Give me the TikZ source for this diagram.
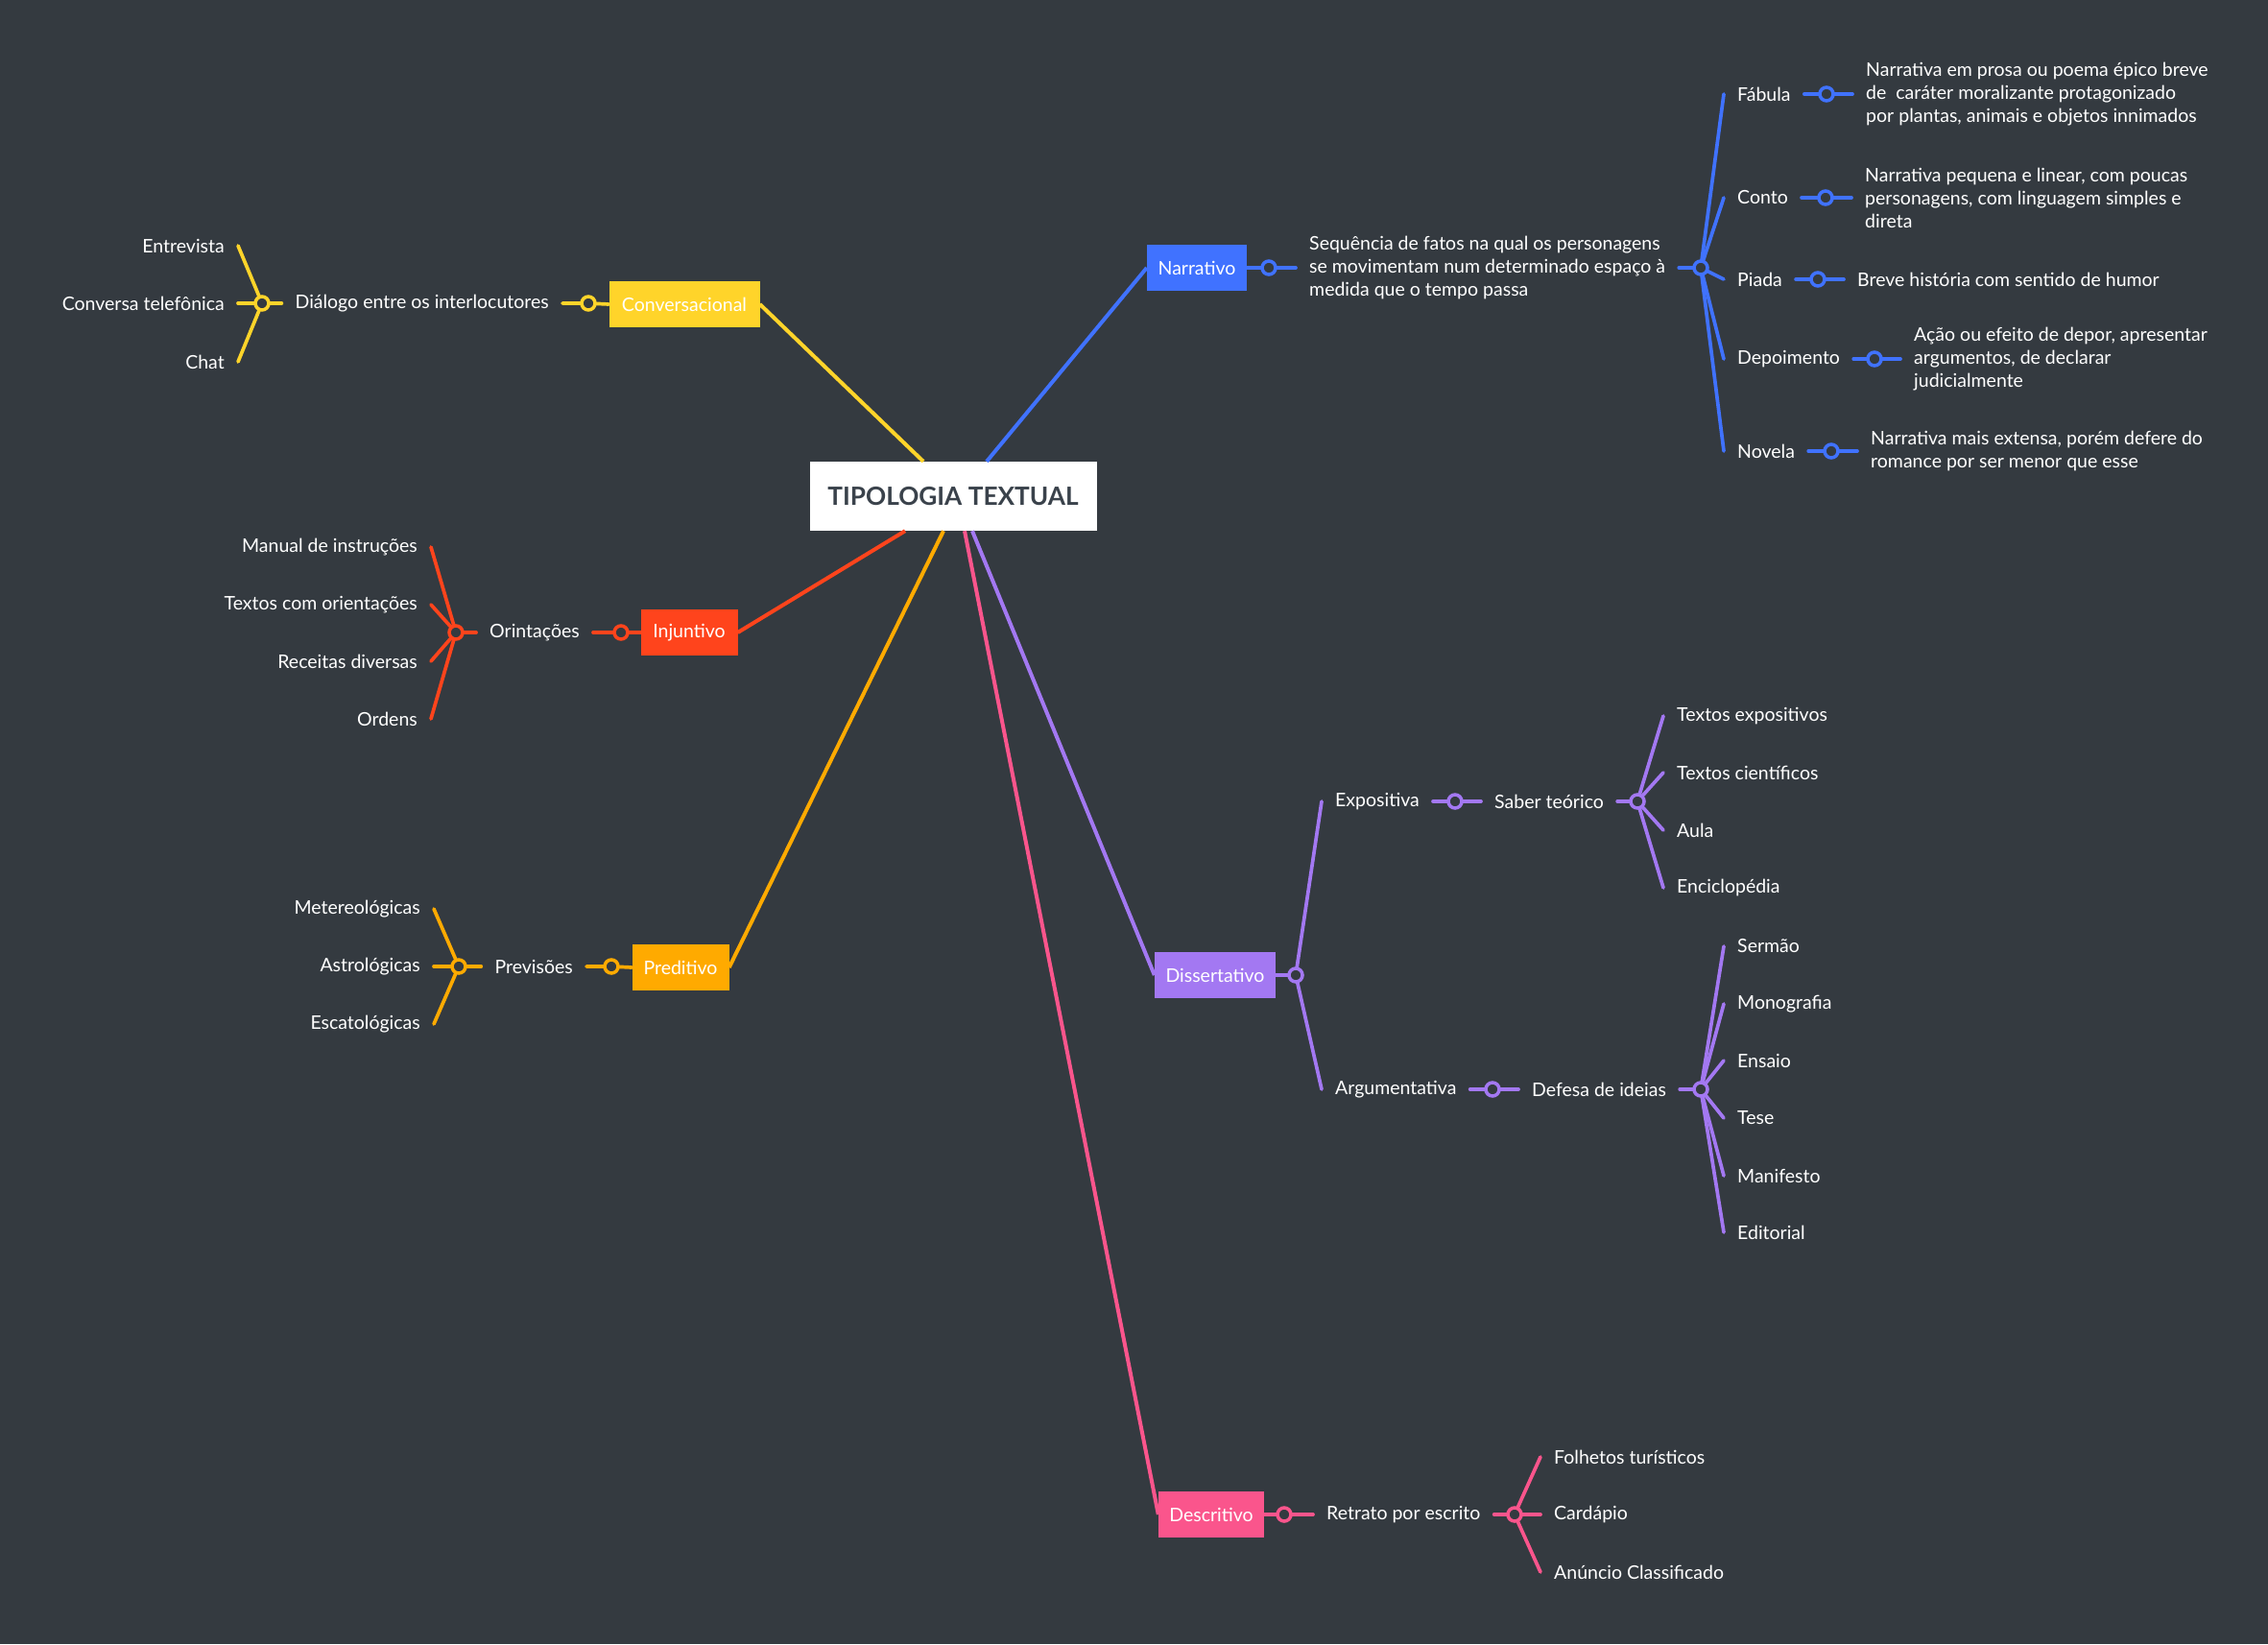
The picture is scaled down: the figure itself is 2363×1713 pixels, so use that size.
\documentclass[tikz,border=0pt]{standalone}
\usepackage{fontspec}
\setmainfont{Lato}
\definecolor{bg}{RGB}{52,58,64}
\definecolor{cY}{RGB}{255,212,42}
\definecolor{cB}{RGB}{64,114,255}
\definecolor{cR}{RGB}{255,68,28}
\definecolor{cO}{RGB}{255,170,0}
\definecolor{cP}{RGB}{163,120,242}
\definecolor{cK}{RGB}{250,85,140}
\definecolor{ttl}{RGB}{58,66,75}
\tikzset{
  txt/.style={text=white, font=\fontsize{19.5}{24}\selectfont, inner xsep=14pt, inner ysep=2pt, align=left},
  box/.style={minimum height=48pt, inner sep=0pt, text=white, font=\fontsize{19.5}{24}\selectfont},
  mainln/.style={line width=4pt},
  lnk/.style={line width=3.7pt, line cap=round},
  knob/.style={circle, draw, line width=3.5pt, fill=bg, minimum size=14pt, inner sep=0pt},
}
\begin{document}
\begin{tikzpicture}[x=1pt,y=-1pt]
\fill[bg] (0,0) rectangle (2363,1713);
\useasboundingbox (0,0) rectangle (2363,1713);

% central
\node[fill=white, minimum width=299pt, minimum height=72pt, inner sep=0pt, text=ttl, font=\fontsize{26.2}{30}\selectfont\bfseries] (central) at (993,517) {TIPOLOGIA TEXTUAL};

% ---------- Conversacional ----------
\node[box, fill=cY, minimum width=157pt] (conv) at (713,317) {Conversacional};
\node[txt, anchor=east] (dial) at (586,316) {Diálogo entre os interlocutores};
\coordinate (kconv) at (613,316);
\coordinate (kdial) at (273,316);
\node[txt, anchor=east] (entr) at (248,256) {Entrevista};
\node[txt, anchor=east] (tele) at (248,316) {Conversa telefônica};
\node[txt, anchor=east] (chat) at (248,377) {Chat};
\draw[mainln, cY] ([xshift=-31pt]central.north) -- (conv.east);
\draw[lnk, cY] (conv.west) -- (kconv) -- (dial.east);
\draw[lnk, cY] (dial.west) -- (kdial);
\foreach \n in {entr,tele,chat} \draw[lnk, cY] (kdial) -- (\n.east);
\node[knob, draw=cY] (kconvn) at (kconv) {};
\node[knob, draw=cY] (kdialn) at (kdial) {};

% ---------- Injuntivo ----------
\node[box, fill=cR, minimum width=101pt] (inj) at (718,659) {Injuntivo};
\node[txt, anchor=east] (orin) at (618,659) {Orintações};
\coordinate (kinj) at (647,659);
\coordinate (korin) at (475,659);
\node[txt, anchor=east] (manu) at (449,570) {Manual de instruções};
\node[txt, anchor=east] (texo) at (449,630) {Textos com orientações};
\node[txt, anchor=east] (rece) at (449,689) {Receitas diversas};
\node[txt, anchor=east] (orde) at (449,749) {Ordens};
\draw[mainln, cR] ([xshift=-50pt]central.south) -- (inj.east);
\draw[lnk, cR] (inj.west) -- (kinj) -- (orin.east);
\draw[lnk, cR] (orin.west) -- (korin);
\foreach \n in {manu,texo,rece,orde} \draw[lnk, cR] (korin) -- (\n.east);
\node[knob, draw=cR] (kinjn) at (kinj) {};
\node[knob, draw=cR] (korinn) at (korin) {};

% ---------- Preditivo ----------
\node[box, fill=cO, minimum width=101pt] (pred) at (709,1008) {Preditivo};
\node[txt, anchor=east] (prev) at (611,1007) {Previsões};
\coordinate (kpred) at (637,1007);
\coordinate (kprev) at (478,1007);
\node[txt, anchor=east] (mete) at (452,947) {Metereológicas};
\node[txt, anchor=east] (astr) at (452,1007) {Astrológicas};
\node[txt, anchor=east] (esca) at (452,1067) {Escatológicas};
\draw[mainln, cO] ([xshift=-10pt]central.south) -- (pred.east);
\draw[lnk, cO] (pred.west) -- (kpred) -- (prev.east);
\draw[lnk, cO] (prev.west) -- (kprev);
\foreach \n in {mete,astr,esca} \draw[lnk, cO] (kprev) -- (\n.east);
\node[knob, draw=cO] (kpredn) at (kpred) {};
\node[knob, draw=cO] (kprevn) at (kprev) {};

% ---------- Narrativo ----------
\node[box, fill=cB, minimum width=104pt] (narr) at (1247,279) {Narrativo};
\coordinate (knarr) at (1322,279);
\node[txt, anchor=west] (seq) at (1350,279) {Sequência de fatos na qual os personagens\\se movimentam num determinado espaço à\\medida que o tempo passa};
\coordinate (kseq) at (1772,279);
\node[txt, anchor=west] (fab) at (1796,98) {Fábula};
\node[txt, anchor=west] (con) at (1796,206) {Conto};
\node[txt, anchor=west] (pia) at (1796,291) {Piada};
\node[txt, anchor=west] (dep) at (1796,374) {Depoimento};
\node[txt, anchor=west] (nov) at (1796,470) {Novela};
\coordinate (kfab) at (1903,98);
\coordinate (kcon) at (1902,206);
\coordinate (kpia) at (1894,291);
\coordinate (kdep) at (1953,374);
\coordinate (knov) at (1908,470);
\node[txt, anchor=west] (dfab) at (1930,98) {Narrativa em prosa ou poema épico breve\\de~ caráter moralizante protagonizado\\por plantas, animais e objetos innimados};
\node[txt, anchor=west] (dcon) at (1929,206) {Narrativa pequena e linear, com poucas\\personagens, com linguagem simples e\\direta};
\node[txt, anchor=west] (dpia) at (1921,291) {Breve história com sentido de humor};
\node[txt, anchor=west] (ddep) at (1980,374) {Ação ou efeito de depor, apresentar\\argumentos, de declarar\\judicialmente};
\node[txt, anchor=west] (dnov) at (1935,470) {Narrativa mais extensa, porém defere do\\romance por ser menor que esse};
\draw[mainln, cB] ([xshift=35pt]central.north) -- (narr.west);
\draw[lnk, cB] (narr.east) -- (knarr) -- (seq.west);
\draw[lnk, cB] (seq.east) -- (kseq);
\foreach \n in {fab,con,pia,dep,nov} \draw[lnk, cB] (kseq) -- (\n.west);
\draw[lnk, cB] (fab.east) -- (kfab) -- (dfab.west);
\draw[lnk, cB] (con.east) -- (kcon) -- (dcon.west);
\draw[lnk, cB] (pia.east) -- (kpia) -- (dpia.west);
\draw[lnk, cB] (dep.east) -- (kdep) -- (ddep.west);
\draw[lnk, cB] (nov.east) -- (knov) -- (dnov.west);
\foreach \k in {knarr,kseq,kfab,kcon,kpia,kdep,knov} \node[knob, draw=cB] (\k n) at (\k) {};

% ---------- Dissertativo ----------
\node[box, fill=cP, minimum width=126pt] (diss) at (1266,1016) {Dissertativo};
\coordinate (kdis) at (1350,1016);
\node[txt, anchor=west] (expo) at (1377,835) {Expositiva};
\node[txt, anchor=west] (argu) at (1377,1135) {Argumentativa};
\coordinate (kexpo) at (1516,835);
\coordinate (kargu) at (1555,1135);
\node[txt, anchor=west] (sabe) at (1543,835) {Saber teórico};
\node[txt, anchor=west] (defe) at (1582,1135) {Defesa de ideias};
\coordinate (ksabe) at (1706,835);
\coordinate (kdefe) at (1772,1135);
\node[txt, anchor=west] (tx1) at (1733,746) {Textos expositivos};
\node[txt, anchor=west] (tx2) at (1733,805) {Textos científicos};
\node[txt, anchor=west] (aula) at (1733,865) {Aula};
\node[txt, anchor=west] (enci) at (1733,925) {Enciclopédia};
\node[txt, anchor=west] (serm) at (1796,986) {Sermão};
\node[txt, anchor=west] (mono) at (1796,1046) {Monografia};
\node[txt, anchor=west] (ensa) at (1796,1105) {Ensaio};
\node[txt, anchor=west] (tese) at (1796,1165) {Tese};
\node[txt, anchor=west] (mani) at (1796,1225) {Manifesto};
\node[txt, anchor=west] (edit) at (1796,1284) {Editorial};
\draw[mainln, cP] ([xshift=20pt]central.south) -- (diss.west);
\draw[lnk, cP] (diss.east) -- (kdis);
\draw[lnk, cP] (kdis) -- (expo.west);
\draw[lnk, cP] (kdis) -- (argu.west);
\draw[lnk, cP] (expo.east) -- (kexpo) -- (sabe.west);
\draw[lnk, cP] (argu.east) -- (kargu) -- (defe.west);
\draw[lnk, cP] (sabe.east) -- (ksabe);
\draw[lnk, cP] (defe.east) -- (kdefe);
\foreach \n in {tx1,tx2,aula,enci} \draw[lnk, cP] (ksabe) -- (\n.west);
\foreach \n in {serm,mono,ensa,tese,mani,edit} \draw[lnk, cP] (kdefe) -- (\n.west);
\foreach \k in {kdis,kexpo,kargu,ksabe,kdefe} \node[knob, draw=cP] (\k n) at (\k) {};

% ---------- Descritivo ----------
\node[box, fill=cK, minimum width=110pt] (desc) at (1262,1578) {Descritivo};
\coordinate (kdesc) at (1338,1578);
\node[txt, anchor=west] (retr) at (1368,1578) {Retrato por escrito};
\coordinate (kretr) at (1578,1578);
\node[txt, anchor=west] (folh) at (1605,1518) {Folhetos turísticos};
\node[txt, anchor=west] (card) at (1605,1578) {Cardápio};
\node[txt, anchor=west] (anun) at (1605,1638) {Anúncio Classificado};
\draw[mainln, cK] ([xshift=12pt]central.south) -- (desc.west);
\draw[lnk, cK] (desc.east) -- (kdesc) -- (retr.west);
\draw[lnk, cK] (retr.east) -- (kretr);
\foreach \n in {folh,card,anun} \draw[lnk, cK] (kretr) -- (\n.west);
\foreach \k in {kdesc,kretr} \node[knob, draw=cK] (\k n) at (\k) {};
\end{tikzpicture}
\end{document}
